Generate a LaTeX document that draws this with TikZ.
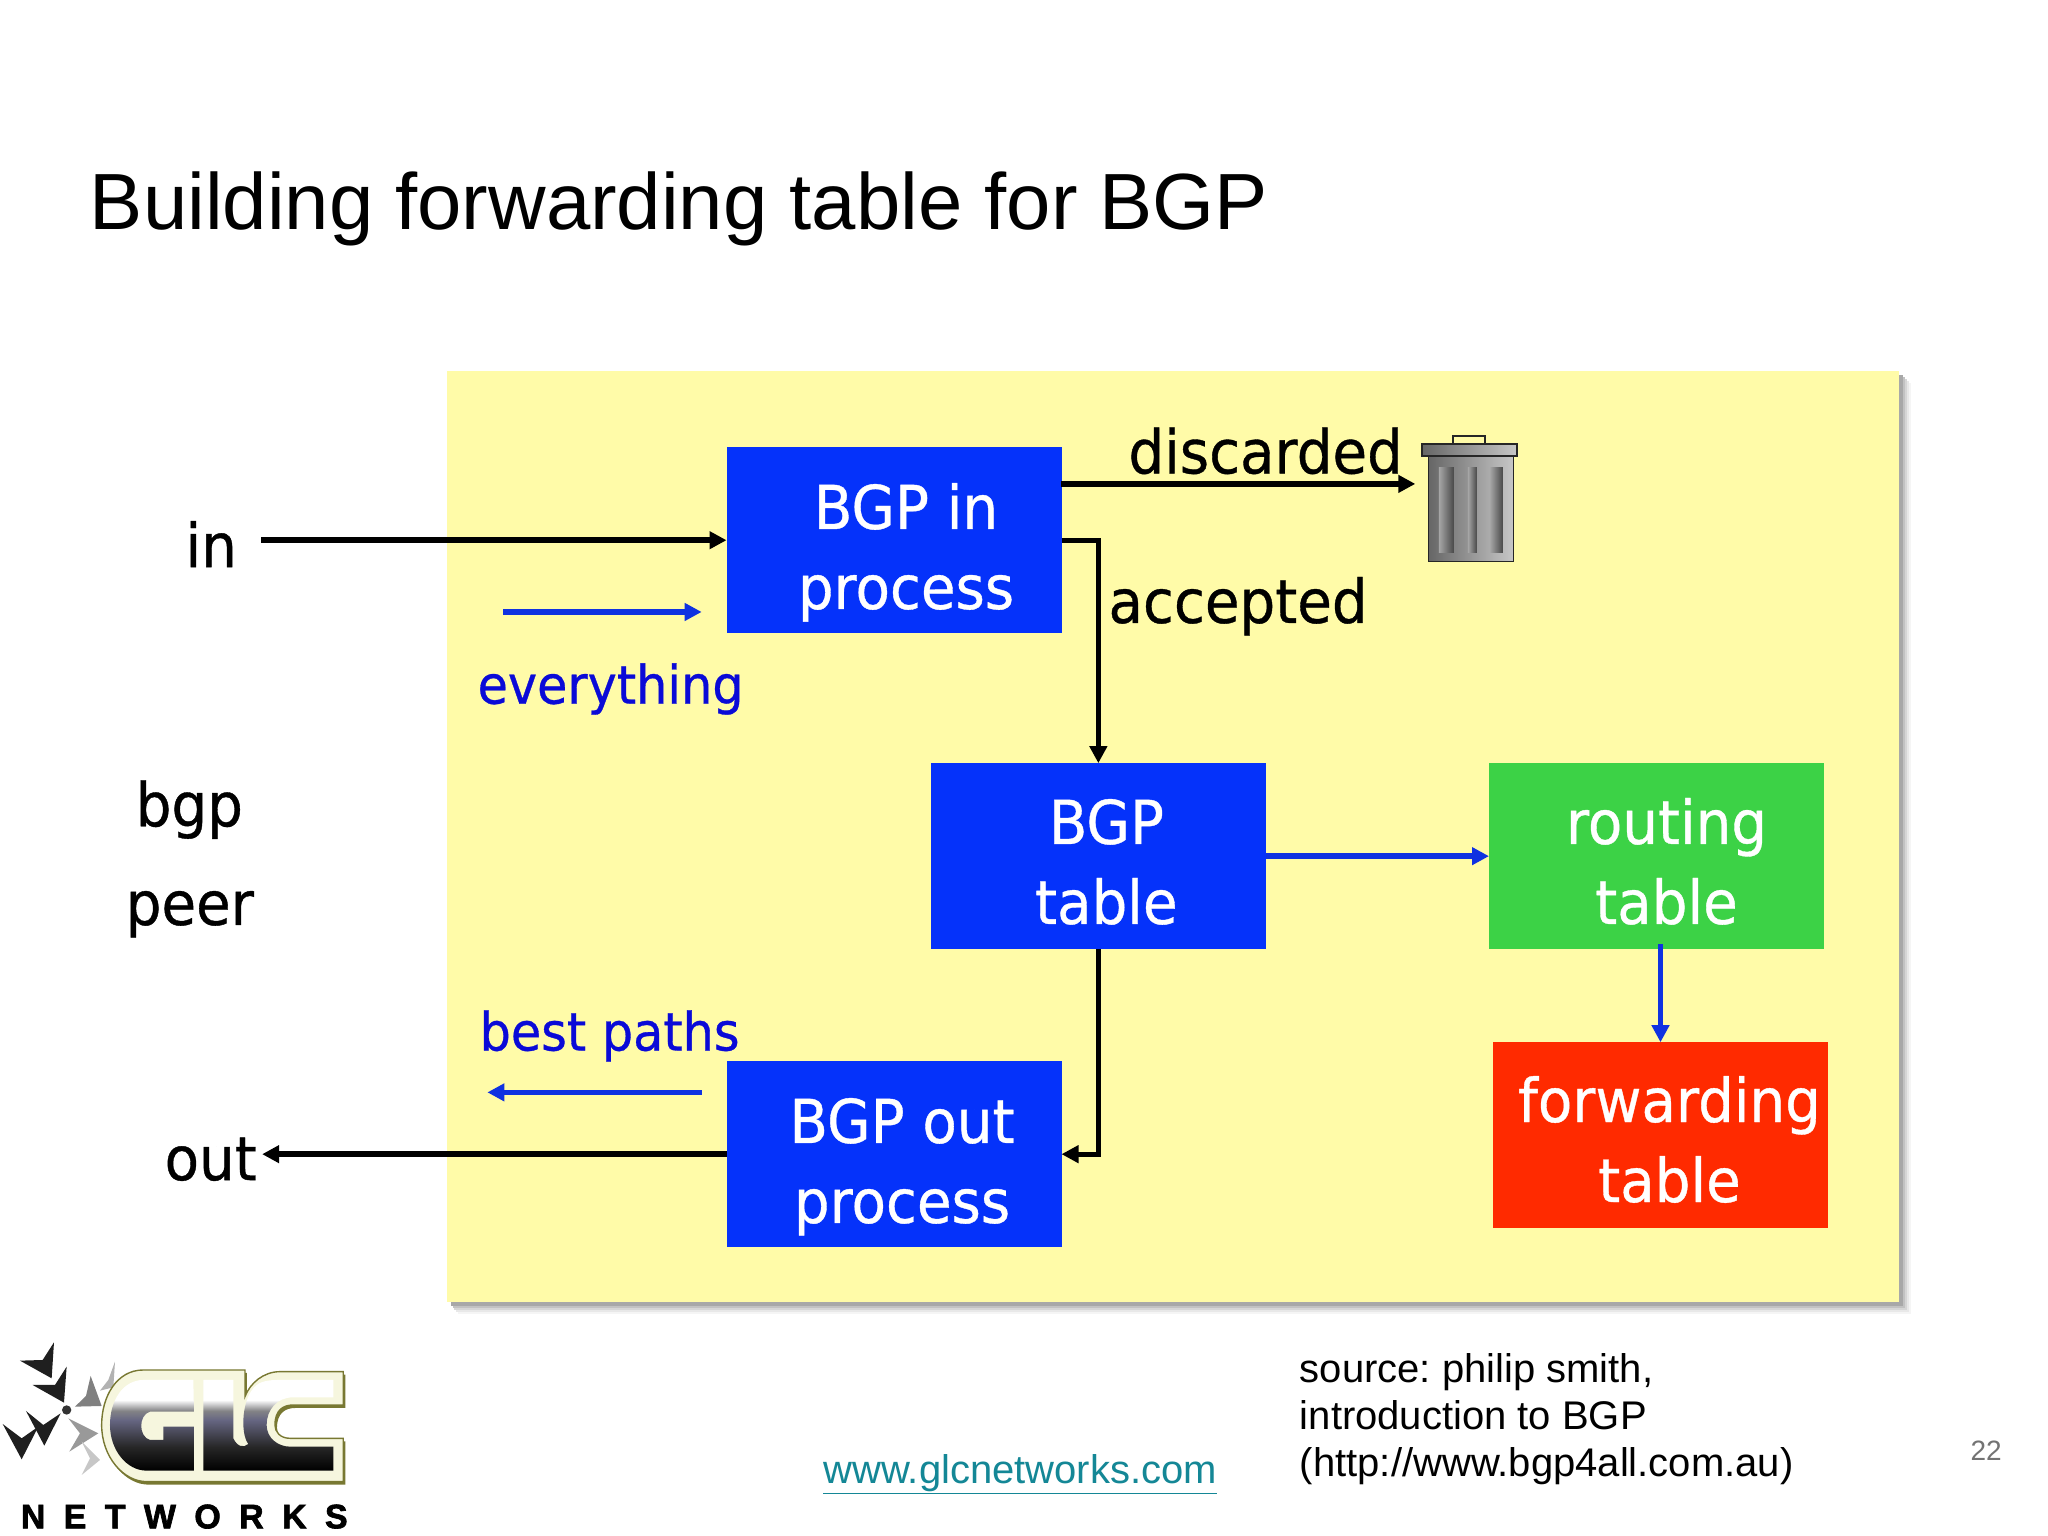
\documentclass[tikz,border=0pt]{standalone}
\usepackage{fontspec}
\setmainfont{Liberation Sans}
\newfontfamily\vfont[FakeStretch=0.93,FakeBold=0.6]{DejaVu Sans}
\newfontfamily\logofont[LetterSpace=54,FakeBold=2]{Liberation Sans Bold}
\usetikzlibrary{arrows.meta}
\definecolor{panelc}{RGB}{255,251,168}
\definecolor{boxblue}{RGB}{5,50,250}
\definecolor{boxgreen}{RGB}{60,210,70}
\definecolor{boxred}{RGB}{255,42,0}
\definecolor{txtblue}{RGB}{10,10,215}
\definecolor{arrblue}{RGB}{15,50,225}
\definecolor{linkc}{RGB}{20,135,150}
\definecolor{olivec}{RGB}{120,120,50}
\definecolor{creamc}{RGB}{246,246,222}
\pgfdeclarehorizontalshading{canbody}{100bp}{color(0bp)=(black!60); color(25bp)=(black!60); color(75bp)=(black!22); color(100bp)=(black!22)}
\pgfdeclarehorizontalshading{slat}{100bp}{color(0bp)=(black!35); color(25bp)=(black!35); color(75bp)=(black!72); color(100bp)=(black!72)}
\pgfdeclareverticalshading{logograd}{100bp}{color(0bp)=(black); color(25bp)=(black); color(38bp)=(black!85); color(53bp)=(black!45!blue!20!gray); color(58bp)=(white!80!blue!5!gray); color(64bp)=(white); color(100bp)=(white)}
\tikzset{
  proc/.style={draw=none,minimum width=335pt,minimum height=186pt,inner sep=0pt,outer sep=0pt},
  boxtxt/.style={text=white,font=\vfont\fontsize{60.5}{80}\selectfont,align=center,anchor=base,inner sep=0pt},
  lbl/.style={font=\vfont\fontsize{60.5}{62}\selectfont,anchor=base west,inner sep=0pt},
  bl/.style={lbl,text=txtblue,font=\vfont\fontsize{53}{54.5}\selectfont},
  flowk/.style={line width=6pt,black,-{Triangle[length=17pt,width=17pt]}},
  flowb/.style={line width=5.5pt,arrblue,-{Triangle[length=17pt,width=17pt]}},
  starc/.style={fill=black!88,draw=none},
  canline/.style={draw=black!85,line width=1.8pt},
}
\begin{document}
\begin{tikzpicture}[x=0.9967pt,y=-0.9967pt]
\useasboundingbox (0,0) rectangle (2054.8,1541.1);
\fill[white] (0,0) rectangle (2054.8,1541.1);
% title
\node[anchor=base west,inner sep=0pt,font=\fontsize{79.7}{80}\selectfont] (title) at (90,230) {Building forwarding table for BGP};
% panel + shadow
\foreach \o/\c in {12/4,10/9,8/16,6/24,4/34}{
  \fill[black!\c] (448+\o,372+\o) rectangle (1905+\o,1306+\o);
}
\fill[panelc] (448,372) rectangle (1905,1306);
% boxes
\node[proc,fill=boxblue] (bgpin) at (897,542) {};
\node[proc,fill=boxblue] (bgptable) at (1102,859) {};
\node[proc,fill=boxblue] (bgpout) at (897,1158) {};
\node[proc,fill=boxgreen] (routing) at (1662,859) {};
\node[proc,fill=boxred] (forwarding) at (1666,1139) {};
% box text
\node[boxtxt] (tin) at (909,611) {BGP in\\process};
\node[boxtxt] (ttable) at (1110,927) {BGP\\table};
\node[boxtxt] (tout) at (905,1227) {BGP out\\process};
\node[boxtxt] (trouting) at (1672,927) {routing\\table};
\node[boxtxt] (tforward) at (1675,1206) {forwarding\\table};
% side labels
\node[lbl] (lin) at (186,569) {in};
\node[lbl] (lbgp) at (136,829) {bgp};
\node[lbl] (lpeer) at (126,928) {peer};
\node[lbl] (lout) at (165,1184) {out};
% inner labels
\node[lbl] (ldisc) at (1132,475) {discarded};
\node[lbl] (lacc) at (1112,625) {accepted};
\node[bl] (leve) at (479,706) {everything};
\node[bl] (lbest) at (481,1054) {best paths};
% free ends
\coordinate (inS) at (262,542);
\coordinate (outE) at (263,1158);
\coordinate (evS) at (505,614);
\coordinate (evE) at (704,614);
\coordinate (bpS) at (704,1096);
\coordinate (bpE) at (489,1096);
\coordinate (discS) at (1065,485.5);
\coordinate (discE) at (1420,485.5);
% trash can
\begin{scope}[x=1pt,y=-1pt]
\node[inner sep=0pt,minimum width=85pt,minimum height=105pt,draw=black!85,line width=1.8pt,shading=canbody] (can) at (1471,509) {};
\foreach \xa/\xb in {1439/1454,1468/1477,1490/1503}{
  \shade[shading=slat] (\xa,468) rectangle (\xb,553);
}
\draw[canline,fill=panelc] (1453,444) -- (1453,436) -- (1485,436) -- (1485,444);
\draw[canline,shading=canbody] (1422,444) rectangle (1517,456);
\end{scope}
% connectors
\draw[flowk] (inS) -- (bgpin.west |- inS);
\draw[flowk] (bgpout.west |- outE) -- (outE);
\draw[flowk] (discS) -- (discE);
\draw[flowk,line width=5pt] (bgpin.east) -| (bgptable.north);
\draw[flowk,line width=5pt] (bgptable.south) |- (bgpout.east);
\draw[flowb] (evS) -- (evE);
\draw[flowb] (bpS) -- (bpE);
\draw[flowb] (bgptable.east) -- (routing.west);
\draw[flowb] (routing.south -| forwarding.north) ++(0,-5) -- (forwarding.north);
% footer
\node[anchor=base west,inner sep=0pt,text=linkc,font=\fontsize{40}{40}\selectfont] (link) at (826,1488) {\underline{www.glcnetworks.com}};
\node[anchor=base west,inner sep=0pt,align=left,font=\frenchspacing\fontsize{40}{47}\selectfont] (src) at (1304,1481) {source: philip smith,\\introduction to BGP\\(http://www.bgp4all.com.au)};
\node[anchor=base west,inner sep=0pt,text=black!55,font=\fontsize{28}{28}\selectfont] (pg) at (1977,1465) {22};
% logo
\begin{scope}[shift={(0,1304.3)},x=0.3333pt,y=-0.3333pt]
  \fill[starc] (162,127) -- (128,180) -- (60,182) -- (155,235) -- cycle;
  \fill[starc] (200,200) -- (165,255) -- (98,255) -- (192,308) -- cycle;
  \fill[starc] (182,340) -- (130,375) -- (78,333) -- (133,437) -- cycle;
  \fill[starc] (115,380) -- (65,415) -- (8,372) -- (65,478) -- cycle;
  \fill[black!50] (272,228) -- (258,288) -- (225,320) -- (305,318) -- cycle;
  \fill[black!30] (345,185) -- (325,240) -- (300,272) -- (340,262) -- cycle;
  \fill[black!40] (205,355) -- (240,400) -- (208,455) -- (295,400) -- cycle;
  \fill[black!22] (245,425) -- (270,475) -- (245,525) -- (300,480) -- cycle;
  \fill[black!80] (200,330) circle[radius=14];
  % GLC outline
  \def\outer{(1030,215) -- (840,215) .. controls (790,215) and (750,250) .. (735,290) -- (735,210) -- (430,210) .. controls (350,210) and (305,290) .. (305,375) .. controls (305,470) and (370,545) .. (440,545) -- (1030,545) -- (1030,415) -- (870,415) .. controls (840,415) and (825,395) .. (825,375) .. controls (825,330) and (850,315) .. (880,315) -- (1030,315) -- cycle}
  \fill[olivec,xshift=2pt,yshift=-3pt] \outer;
  \fill[creamc,draw=olivec,line width=1.4pt] \outer;
  \begin{scope}
    \clip
      (580,240) -- (430,240) .. controls (370,240) and (330,300) .. (330,375) .. controls (330,450) and (380,512) .. (440,512) -- (582,512) -- (582,380) -- (490,380) -- (490,420) -- (450,420) .. controls (415,410) and (415,345) .. (450,335) -- (582,335) -- cycle
      (610,240) -- (700,240) -- (700,415) .. controls (712,440) and (730,445) .. (745,432) .. controls (720,400) and (725,290) .. (770,255) .. controls (790,240) and (820,240) .. (840,240) -- (1000,240) -- (1000,292) -- (880,292) .. controls (830,292) and (800,330) .. (800,375) .. controls (800,415) and (835,440) .. (870,440) -- (1000,440) -- (1000,512) -- (610,512) -- cycle;
    \shade[shading=logograd] (300,240) rectangle (1010,512);
  \end{scope}
  \node[anchor=base west,inner sep=0pt,font=\logofont\fontsize{34}{34}\selectfont] (nw) at (62,685) {NETWORKS};
\end{scope}
\end{tikzpicture}
\end{document}
